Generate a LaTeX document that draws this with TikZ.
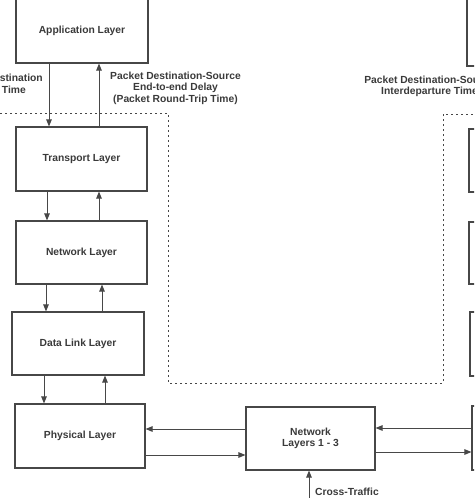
\documentclass[tikz,border=0pt]{standalone}
\usepackage{fontspec}
\setmainfont{Liberation Sans}
\usetikzlibrary{arrows.meta}
\definecolor{linegray}{HTML}{474747}
\definecolor{textgray}{HTML}{3A3A3A}
\begin{document}
\begin{tikzpicture}[x=1pt,y=-1pt,>={Triangle[length=7pt,width=5.5pt]},
    font=\bfseries\fontsize{10.3}{11.5}\selectfont,text=textgray,
    layer/.style={draw=linegray,line width=1.1pt,minimum width=131pt,minimum height=64pt,inner sep=0pt},
    link/.style={->,draw=linegray,line width=1pt},
    lbl/.style={align=center,inner sep=0pt}]
    \useasboundingbox (0,0) rectangle (474,498);
    \clip (0,0) rectangle (474,498);
    % source host
    \node[layer,minimum width=132pt,minimum height=65pt] (app) at (82,30.5) {Application Layer};
    \node[layer] (trans) at (81.5,159) {Transport Layer};
    \node[layer,minimum height=63pt] (net) at (81.5,252.5) {Network Layer};
    \node[layer,minimum width=132pt,minimum height=63pt] (dl) at (78,343.5) {Data Link Layer};
    \node[layer,minimum width=130pt] (phys) at (80,436) {Physical Layer};
    % network in between
    \node[layer,minimum width=129pt,minimum height=63pt,align=center] (nl) at (310.5,438.5) {Network\\Layers 1 - 3};
    % destination host (cut off)
    \node[layer,minimum height=68pt] (rapp) at (532.5,32) {};
    \node[layer,minimum height=63pt] (rtrans) at (534.5,160.5) {};
    \node[layer,minimum height=62pt] (rnet) at (534.5,253) {};
    \node[layer,minimum height=64pt] (rdl) at (535.5,344) {};
    \node[layer] (rphys) at (537.5,438) {};
    \coordinate (ct) at (309,505);
    % labels
    \node[lbl] (srclbl) at (-22.5,85) {Packet Source-Destination\\Interdeparture Time};
    \node[lbl] (rtt) at (175.5,88) {Packet Destination-Source\\End-to-end Delay\\(Packet Round-Trip Time)};
    \node[lbl] (dstlbl) at (429.5,86.5) {Packet Destination-Source\\Interdeparture Time};
    \node[anchor=west,inner sep=0pt] (ctlbl) at (315,492) {Cross-Traffic};
    % dotted outline
    \draw[linegray,line width=0.9pt,dash pattern=on 1.8pt off 3.2pt] (-5,113)--(168,113)--(168,383)--(443,383)--(443,114)--(480,114);
    % stack arrows
    \draw[link] ([xshift=-33pt]app.south) -- ([xshift=-33pt]app.south |- trans.north);
    \draw[link] ([xshift=17pt]app.south |- trans.north) -- ([xshift=17pt]app.south);
    \draw[link] ([xshift=-34.5pt]trans.south) -- ([xshift=-34.5pt]trans.south |- net.north);
    \draw[link] ([xshift=17.5pt]trans.south |- net.north) -- ([xshift=17.5pt]trans.south);
    \draw[link] ([xshift=-35.5pt]net.south) -- ([xshift=-35.5pt]net.south |- dl.north);
    \draw[link] ([xshift=20.5pt]net.south |- dl.north) -- ([xshift=20.5pt]net.south);
    \draw[link] ([xshift=-34pt]dl.south) -- ([xshift=-34pt]dl.south |- phys.north);
    \draw[link] ([xshift=27pt]dl.south |- phys.north) -- ([xshift=27pt]dl.south);
    % horizontal links
    \draw[link] ([yshift=7pt]phys.east -| nl.west) -- ([yshift=7pt]phys.east);
    \draw[link] ([yshift=-19pt]phys.east) -- ([yshift=-19pt]phys.east -| nl.west);
    \draw[link] ([yshift=10.5pt]nl.east -| rphys.west) -- ([yshift=10.5pt]nl.east);
    \draw[link] ([yshift=-13.5pt]nl.east) -- ([yshift=-13.5pt]nl.east -| rphys.west);
    \draw[link] (ct) -- (ct |- nl.south);
\end{tikzpicture}
\end{document}
